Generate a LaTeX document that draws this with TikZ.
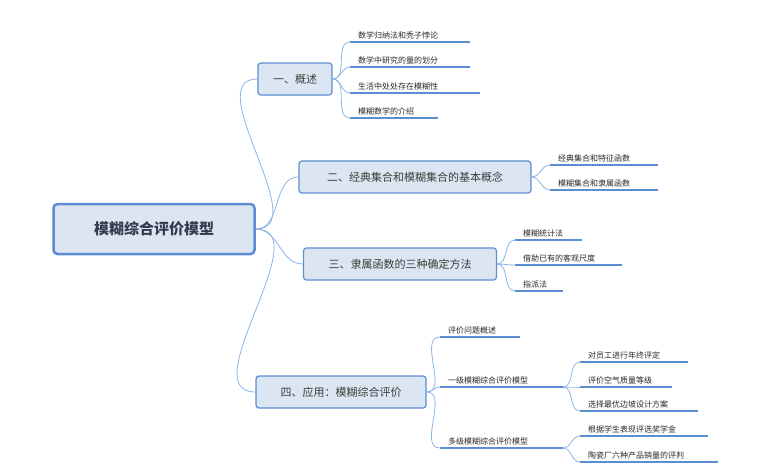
\documentclass[tikz,border=0pt]{standalone}
\usepackage{fontspec}
\setmainfont{Noto Sans CJK SC}
\newcommand{\leaf}[5]{%
  \coordinate (#1) at (#2,#4);
  \coordinate (#1e) at (#3,#4);
  \draw[leafline] (#1) -- (#1e);
  \node[leaftext] (#1t) at (#2,#4) {#5};
}
\begin{document}
\begin{tikzpicture}[x=1pt,y=-1pt,
  leafline/.style={draw=blue!55!cyan!70!black!80, line width=1.6pt, color={rgb,255:red,91;green,141;blue,210}},
  leaftext/.style={anchor=south west, inner sep=2pt, xshift=6pt, yshift=1pt, font=\fontsize{8}{9}\selectfont, text={rgb,255:red,40;green,40;blue,40}},
  conn/.style={draw={rgb,255:red,140;green,180;blue,230}, line width=0.8pt},
  l1/.style={draw={rgb,255:red,91;green,141;blue,210}, line width=1.2pt, fill={rgb,255:red,220;green,230;blue,242}, rounded corners=3pt, font=\fontsize{11}{13}\selectfont, text={rgb,255:red,60;green,60;blue,60}, minimum height=32pt, inner xsep=8pt},
  rootst/.style={draw={rgb,255:red,91;green,141;blue,210}, line width=2.5pt, fill={rgb,255:red,220;green,230;blue,242}, rounded corners=4pt, font=\fontsize{15}{17}\bfseries\selectfont, text={rgb,255:red,50;green,60;blue,80}, minimum width=201pt, minimum height=50pt}
]
\useasboundingbox (0,0) rectangle (772,467);
\node[rootst] (root) at (154,229) {模糊综合评价模型};
\node[l1, minimum width=74pt] (a) at (295,79) {一、概述};
\node[l1, minimum width=232pt] (b) at (415,177) {二、经典集合和模糊集合的基本概念};
\node[l1, minimum width=193pt] (c) at (400,264) {三、隶属函数的三种确定方法};
\node[l1, minimum width=170pt] (d) at (341,392) {四、应用：模糊综合评价};
\foreach \n in {a,b,c,d} \draw[conn] (root.east) to[out=0,in=180] (\n.west);
% a leaves
\leaf{a1}{350}{470}{42}{数学归纳法和秃子悖论}
\leaf{a2}{350}{470}{67}{数学中研究的量的划分}
\leaf{a3}{350}{480}{93}{生活中处处存在模糊性}
\leaf{a4}{350}{438}{118}{模糊数学的介绍}
\foreach \n in {a1,a2,a3,a4} \draw[conn] (a.east) to[out=0,in=180] (\n);
% b leaves
\leaf{b1}{550}{658}{165}{经典集合和特征函数}
\leaf{b2}{550}{658}{190}{模糊集合和隶属函数}
\foreach \n in {b1,b2} \draw[conn] (b.east) to[out=0,in=180] (\n);
% c leaves
\leaf{c1}{515}{582}{240}{模糊统计法}
\leaf{c2}{515}{622}{265}{借助已有的客观尺度}
\leaf{c3}{515}{563}{291}{指派法}
\foreach \n in {c1,c2,c3} \draw[conn] (c.east) to[out=0,in=180] (\n);
% d children
\leaf{d1}{440}{520}{337}{评价问题概述}
\leaf{d2}{440}{563}{387}{一级模糊综合评价模型}
\leaf{d3}{440}{563}{448}{多级模糊综合评价模型}
\foreach \n in {d1,d2,d3} \draw[conn] (d.east) to[out=0,in=180] (\n);
\leaf{e1}{580}{688}{362}{对员工进行年终评定}
\leaf{e2}{580}{672}{387}{评价空气质量等级}
\leaf{e3}{580}{698}{411}{选择最优边坡设计方案}
\foreach \n in {e1,e2,e3} \draw[conn] (d2e) to[out=0,in=180] (\n);
\leaf{f1}{580}{708}{436}{根据学生表现评选奖学金}
\leaf{f2}{580}{718}{462}{陶瓷厂六种产品销量的评判}
\foreach \n in {f1,f2} \draw[conn] (d3e) to[out=0,in=180] (\n);
\end{tikzpicture}
\end{document}
